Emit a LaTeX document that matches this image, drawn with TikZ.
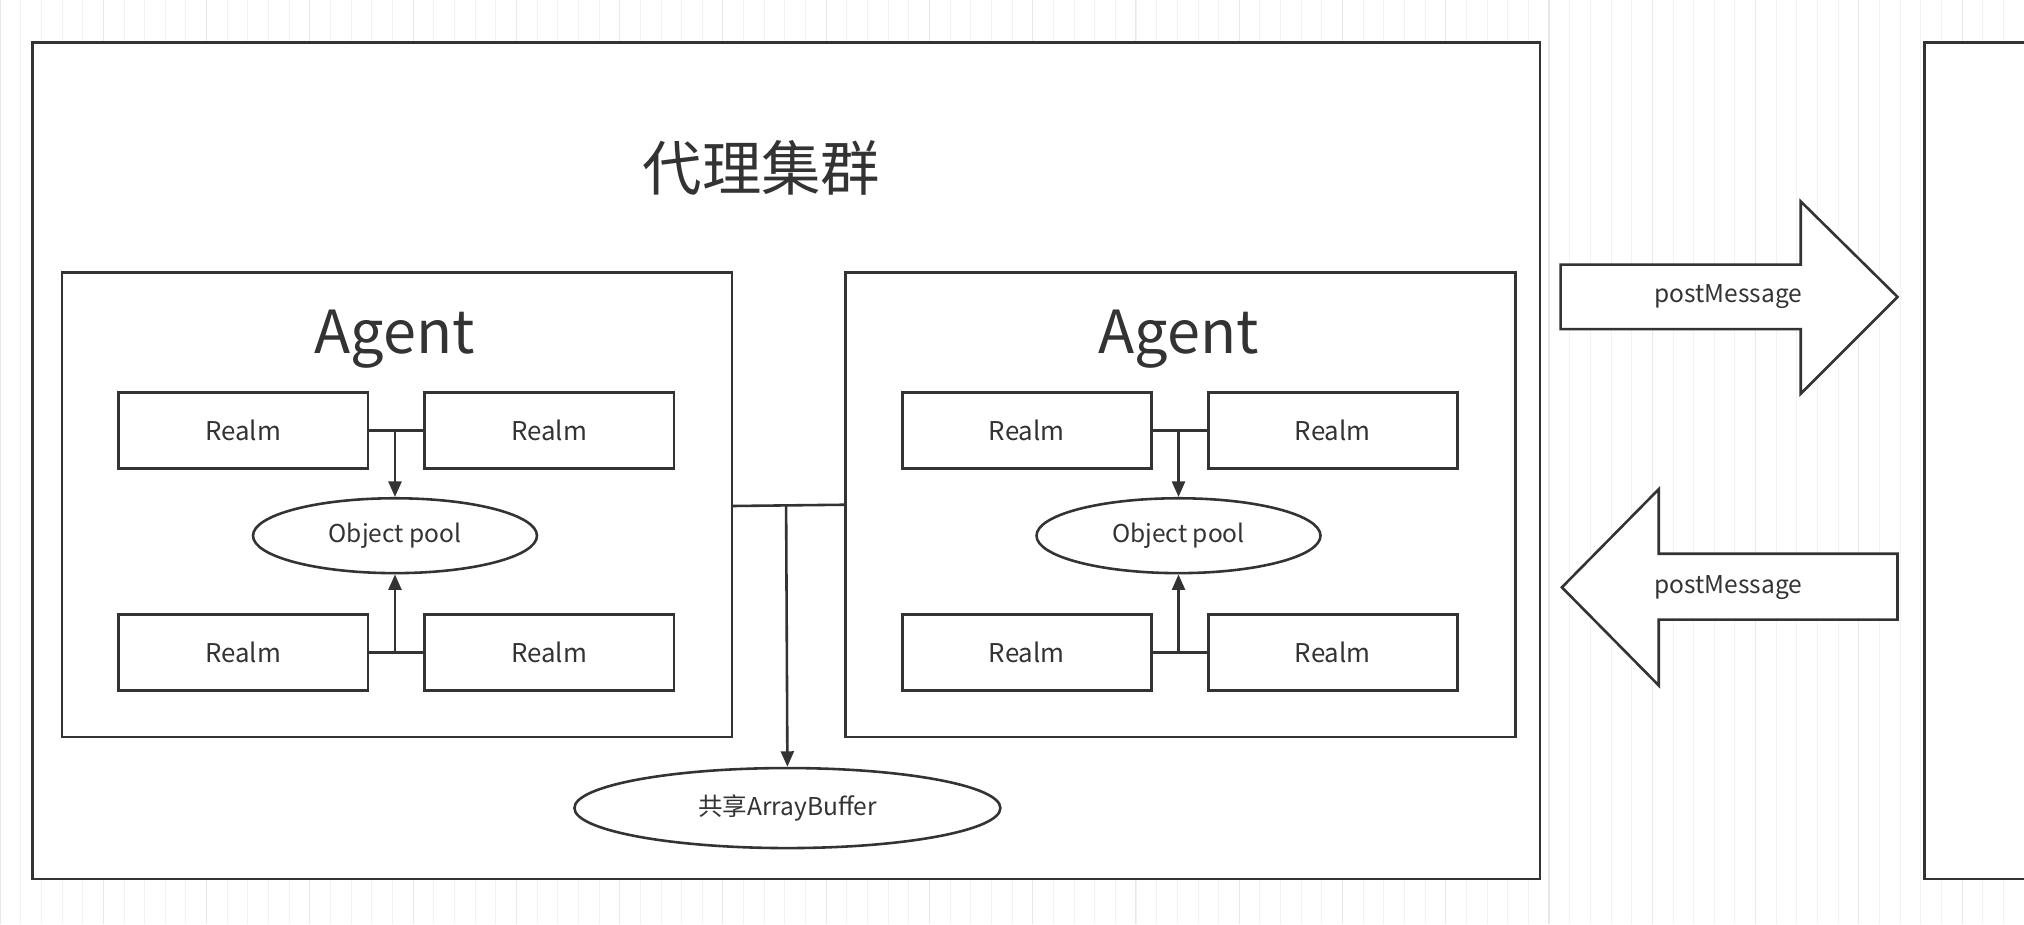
\documentclass[tikz,border=0pt]{standalone}
\usepackage{fontspec}
\setmainfont{Noto Sans CJK SC}
\usetikzlibrary{arrows.meta,shapes.geometric}
\definecolor{ink}{HTML}{333333}
\begin{document}
\begin{tikzpicture}[x=1pt,y=-1pt,
  box/.style={draw=ink,line width=2pt,fill=white},
  realm/.style={draw=ink,line width=2pt,fill=white,minimum width=193pt,minimum height=59pt,font=\fontsize{20}{24}\selectfont,text=ink},
  pool/.style={draw=ink,line width=2pt,fill=white,ellipse,inner sep=0pt,minimum width=220pt,minimum height=58pt,font=\fontsize{19}{23}\selectfont,text=ink},
  ln/.style={draw=ink,line width=2pt},
  arr/.style={draw=ink,line width=2pt,-{Triangle[length=12pt,width=10pt]}},
  big/.style={text=ink,font=\fontsize{46}{52}\selectfont}]
\useasboundingbox (0,0) rectangle (1568,716);
\fill[white] (0,0) rectangle (1568,716);
\draw[black!5,line width=0.6pt] (0,0) grid[step=16] (1568,716);
\draw[black!9,line width=0.8pt] (0,0) grid[step=80] (1568,716);
\draw[box] (25,33) rectangle (1193,681);
\draw[box] (1491,33) rectangle (1580,681);
\node[big] (title) at (590,130) {代理集群};
\foreach \o/\n in {0/L,607/R}{
  \begin{scope}[xshift=\o]
  \draw[box] (48,211) rectangle (567,571);
  \node[big] (ag\n) at (306,263) {Agent};
  \node[realm] (r1\n) at (188.5,333.5) {Realm};
  \node[realm] (r2\n) at (425.5,333.5) {Realm};
  \node[realm] (r3\n) at (188.5,505.5) {Realm};
  \node[realm] (r4\n) at (425.5,505.5) {Realm};
  \node[pool] (p\n) at (306,415) {Object pool};
  \coordinate (t\n) at (306,333.5);
  \coordinate (b\n) at (306,505.5);
  \end{scope}
  \draw[ln] (r1\n.east) -- (r2\n.west);
  \draw[ln] (r3\n.east) -- (r4\n.west);
  \draw[arr] (t\n) -- (p\n.north);
  \draw[arr] (b\n) -- (p\n.south);
}
\node[pool,minimum width=330pt,minimum height=62pt] (ab) at (610,626) {共享ArrayBuffer};
\coordinate (la) at (567,392);
\coordinate (ra) at (655,391);
\coordinate (mid) at (609,391.5);
\draw[ln] (la) -- (ra);
\draw[arr] (mid) -- (ab.north);
\draw[box,line join=miter] (1209,205) -- (1395,205) -- (1395,156) -- (1470,230) -- (1395,305) -- (1395,255) -- (1209,255) -- cycle;
\node[text=ink,font=\fontsize{19}{23}\selectfont] (pm1) at (1339,230) {postMessage};
\draw[box,line join=miter] (1470,429) -- (1285,429) -- (1285,379) -- (1210,455) -- (1285,531) -- (1285,480) -- (1470,480) -- cycle;
\node[text=ink,font=\fontsize{19}{23}\selectfont] (pm2) at (1339,455) {postMessage};
\end{tikzpicture}
\end{document}
